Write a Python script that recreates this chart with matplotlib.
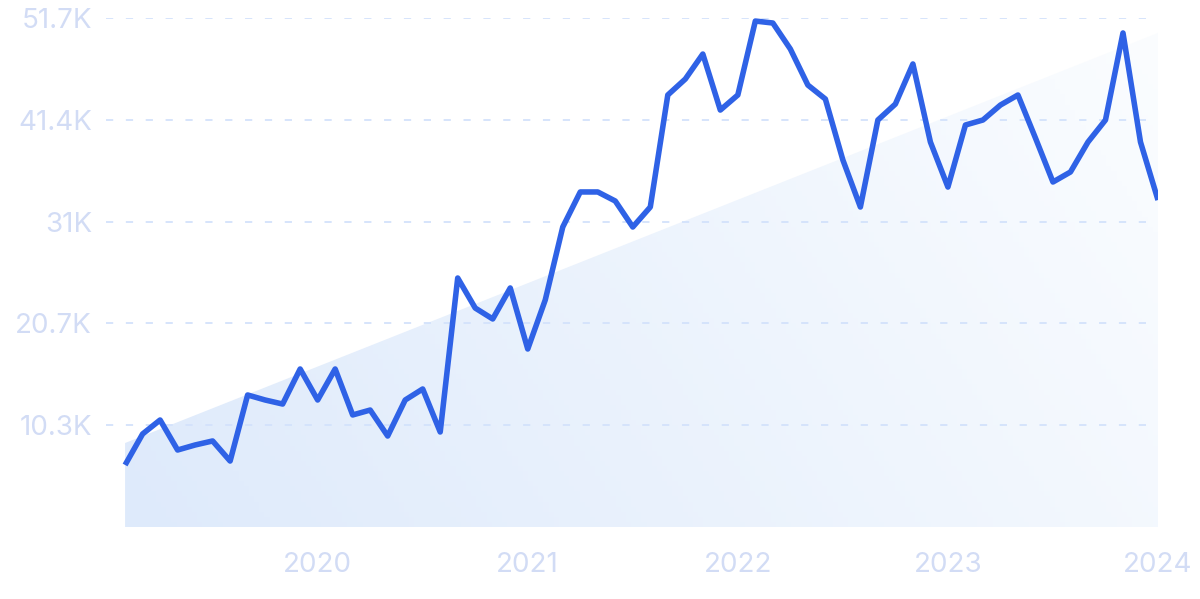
import matplotlib.pyplot as plt
import numpy as np
from matplotlib.colors import LinearSegmentedColormap
from matplotlib.patches import Polygon

# monthly values (thousands), Feb 2019 .. Jan 2024
values = [6.30, 9.45, 10.87, 7.82, 8.33, 8.74, 6.70, 13.41, 12.90, 12.49,
          16.05, 12.90, 16.05, 11.38, 11.88, 9.24, 12.90, 14.02, 9.65, 25.29,
          22.24, 21.13, 24.28, 18.08, 23.06, 30.47, 34.03, 34.03, 33.11, 30.47,
          32.50, 43.88, 45.50, 48.04, 42.35, 43.88, 51.39, 51.19, 48.55, 44.89,
          43.47, 37.28, 32.50, 41.34, 42.96, 47.03, 39.10, 34.53, 40.83, 41.34,
          42.86, 43.88, 39.51, 35.04, 36.06, 39.10, 41.34, 50.18, 39.10, 33.21]
trend_start, trend_end = 8.53, 50.18
year_labels = ["2020", "2021", "2022", "2023", "2024"]
year_pos = [11, 23, 35, 47, 59]
y_ticks = [10.34, 20.68, 31.02, 41.36, 51.7]
y_labels = ["10.3K", "20.7K", "31K", "41.4K", "51.7K"]

plt.rcParams['font.family'] = ['Inter', 'DejaVu Sans']
label_color = '#d2dcf5'

x = np.arange(len(values))
fig = plt.figure(figsize=(12, 5.99), dpi=100)
ax = fig.add_axes([106 / 1200, 1 - 527 / 599, (1158 - 106) / 1200, (527 - 18) / 599])
ax.set_xlim(-1.09, 59)
ax.set_ylim(0, 51.7)

# gradient trend area
cmap = LinearSegmentedColormap.from_list('fade', ['#deeafb', '#fbfdff'])
gx, gy = np.meshgrid(np.linspace(0, 1, 200), np.linspace(0, 1, 100))
grad = np.clip(0.75 * gx + 0.25 * gy, 0, 1)
img = ax.imshow(grad, cmap=cmap, extent=[0, 59, 0, 51.7], origin='lower',
                aspect='auto', zorder=1, vmin=0, vmax=1)
poly = Polygon([[0, 0], [0, trend_start], [59, trend_end], [59, 0]],
               closed=True, facecolor='none', edgecolor='none')
ax.add_patch(poly)
img.set_clip_path(poly)

for t in y_ticks:
    ax.axhline(t, color='#d3e2fb', lw=1.3, ls=(0, (4, 7)), zorder=2)

ax.plot(x, values, color='#2f62e6', lw=4.0, zorder=3,
        solid_joinstyle='round', solid_capstyle='butt')

ax.set_xticks(year_pos)
ax.set_xticklabels(year_labels, fontsize=20, color=label_color)
ax.set_yticks(y_ticks)
ax.set_yticklabels(y_labels, fontsize=20, color=label_color)
ax.tick_params(length=0)
ax.tick_params(axis='x', pad=18)
ax.tick_params(axis='y', pad=10)
for s in ax.spines.values():
    s.set_visible(False)

fig.savefig('out.png', dpi=100)
